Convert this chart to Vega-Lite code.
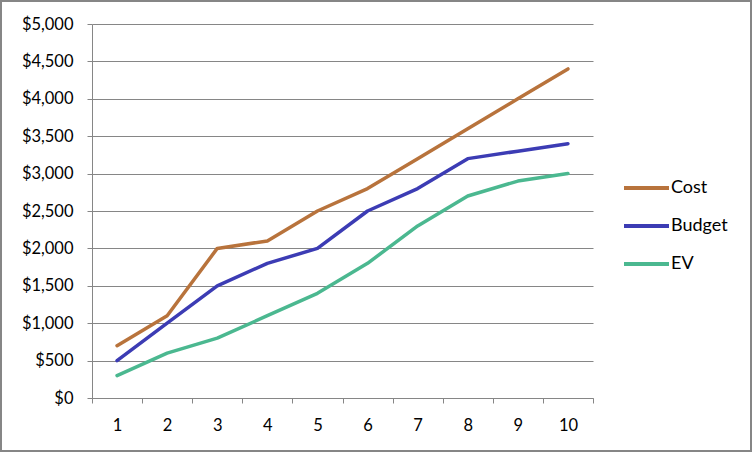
{
  "$schema": "https://vega.github.io/schema/vega-lite/v6.json",
  "width": 752,
  "height": 452,
  "autosize": {"type": "none"},
  "padding": 0,
  "background": "white",
  "config": {
    "font": "Lato",
    "view": {"stroke": "#868686", "strokeWidth": 4},
    "axis": {"labelFont": "Lato", "labelFontSize": 16.5, "labelColor": "#000000", "domainColor": "#868686", "tickColor": "#868686", "gridColor": "#868686", "tickSize": 5, "title": null},
    "legend": {"labelFont": "Lato", "labelFontSize": 18, "labelColor": "#000000"}
  },
  "data": {
    "values": [
      {"period": "1", "series": "Cost", "amount": 700},
      {"period": "2", "series": "Cost", "amount": 1100},
      {"period": "3", "series": "Cost", "amount": 2000},
      {"period": "4", "series": "Cost", "amount": 2100},
      {"period": "5", "series": "Cost", "amount": 2500},
      {"period": "6", "series": "Cost", "amount": 2800},
      {"period": "7", "series": "Cost", "amount": 3200},
      {"period": "8", "series": "Cost", "amount": 3600},
      {"period": "9", "series": "Cost", "amount": 4000},
      {"period": "10", "series": "Cost", "amount": 4400},
      {"period": "1", "series": "Budget", "amount": 500},
      {"period": "2", "series": "Budget", "amount": 1000},
      {"period": "3", "series": "Budget", "amount": 1500},
      {"period": "4", "series": "Budget", "amount": 1800},
      {"period": "5", "series": "Budget", "amount": 2000},
      {"period": "6", "series": "Budget", "amount": 2500},
      {"period": "7", "series": "Budget", "amount": 2800},
      {"period": "8", "series": "Budget", "amount": 3200},
      {"period": "9", "series": "Budget", "amount": 3300},
      {"period": "10", "series": "Budget", "amount": 3400},
      {"period": "1", "series": "EV", "amount": 300},
      {"period": "2", "series": "EV", "amount": 600},
      {"period": "3", "series": "EV", "amount": 800},
      {"period": "4", "series": "EV", "amount": 1100},
      {"period": "5", "series": "EV", "amount": 1400},
      {"period": "6", "series": "EV", "amount": 1800},
      {"period": "7", "series": "EV", "amount": 2300},
      {"period": "8", "series": "EV", "amount": 2700},
      {"period": "9", "series": "EV", "amount": 2900},
      {"period": "10", "series": "EV", "amount": 3000}
    ]
  },
  "mark": {"type": "line", "strokeWidth": 3.5, "strokeJoin": "round", "strokeCap": "round"},
  "encoding": {
    "x": {
      "field": "period",
      "type": "ordinal",
      "sort": null,
      "bandPosition": 0.5,
      "scale": {"type": "band", "range": [92, 593], "paddingInner": 0, "paddingOuter": 0},
      "axis": {"labelAngle": 0, "grid": false, "tickBand": "extent", "offset": -54, "labelPadding": 14}
    },
    "y": {
      "field": "amount",
      "type": "quantitative",
      "scale": {"domain": [0, 5000], "range": [398, 24], "nice": false},
      "axis": {"values": [0, 500, 1000, 1500, 2000, 2500, 3000, 3500, 4000, 4500, 5000], "format": "$,.0f", "grid": true, "offset": -92, "labelPadding": 14}
    },
    "color": {
      "field": "series",
      "type": "nominal",
      "scale": {"domain": ["Cost", "Budget", "EV"], "range": ["#B8733C", "#3C3CB4", "#4BB890"]},
      "legend": {"title": null, "orient": "none", "legendX": 622, "legendY": 173, "symbolType": "stroke", "symbolSize": 2025, "symbolStrokeWidth": 4, "clipHeight": 30, "rowPadding": 8, "labelOffset": 0}
    }
  }
}
